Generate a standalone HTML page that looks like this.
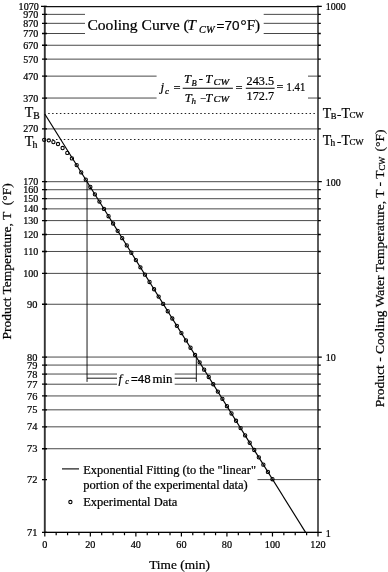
<!DOCTYPE html><html><head><meta charset="utf-8"><style>html,body{margin:0;padding:0;background:#fff;width:388px;height:572px;overflow:hidden}svg{display:block}text{font-family:"Liberation Serif",serif;fill:#000;stroke:#000;stroke-width:0.22px}.s{font-family:"Liberation Sans",sans-serif}.i{font-style:italic}</style></head><body>
<svg width="388" height="572" viewBox="0 0 388 572">
<path d="M44.8 532.40H318.0M257.5 479.61H318.0M44.8 448.74H318.0M44.8 426.83H318.0M44.8 409.84H318.0M44.8 395.95H318.0M44.8 384.21H117.0M174.7 384.21H318.0M44.8 374.04H117.0M174.7 374.04H318.0M44.8 365.07H318.0M44.8 357.05H318.0M44.8 304.26H318.0M44.8 273.39H318.0M44.8 251.48H318.0M44.8 234.49H318.0M44.8 220.60H318.0M44.8 208.86H318.0M44.8 198.69H318.0M44.8 189.72H318.0M44.8 181.70H318.0M44.8 128.91H318.0M44.8 98.04H156.6M308.0 98.04H318.0M44.8 76.13H156.6M308.0 76.13H318.0M44.8 59.14H318.0M44.8 45.25H318.0M44.8 33.51H85.0M263.7 33.51H318.0M44.8 23.34H85.0M263.7 23.34H318.0M44.8 14.37H85.0M263.7 14.37H318.0" stroke="#000" stroke-width="0.72" fill="none"/>
<path d="M44.8 6.6H318.0" stroke="#111" stroke-width="1.3" fill="none"/>
<path d="M48.2 113.50H316.5" stroke="#222" stroke-width="1" stroke-dasharray="1.5 2.4" fill="none"/>
<path d="M48.2 139.50H316.5" stroke="#222" stroke-width="1" stroke-dasharray="1.5 2.4" fill="none"/>
<path d="M44.8 5.75V533.0" stroke="#333" stroke-width="1.9" fill="none"/>
<path d="M318.0 5.75V533.0" stroke="#333" stroke-width="1.6" fill="none"/>
<path d="M44.8 532.4H318.0" stroke="#000" stroke-width="1.3" fill="none"/>
<path d="M41 6.35H47M42 532.40H47M42 479.61H47M42 448.74H47M42 426.83H47M42 409.84H47M42 395.95H47M42 384.21H47M42 374.04H47M42 365.07H47M42 357.05H47M42 304.26H47M42 273.39H47M42 251.48H47M42 234.49H47M42 220.60H47M42 208.86H47M42 198.69H47M42 189.72H47M42 181.70H47M42 128.91H47M42 98.04H47M42 76.13H47M42 59.14H47M42 45.25H47M42 33.51H47M42 23.34H47M42 14.37H47M42 6.35H47" stroke="#000" stroke-width="1.3" fill="none"/>
<path d="M318.0 532.40H321.8M318.0 479.61H320.8M318.0 448.74H320.8M318.0 426.83H320.8M318.0 409.84H320.8M318.0 395.95H320.8M318.0 384.21H320.8M318.0 374.04H320.8M318.0 365.07H320.8M318.0 357.05H321.8M318.0 304.26H320.8M318.0 273.39H320.8M318.0 251.48H320.8M318.0 234.49H320.8M318.0 220.60H320.8M318.0 208.86H320.8M318.0 198.69H320.8M318.0 189.72H320.8M318.0 181.70H321.8M318.0 128.91H320.8M318.0 98.04H320.8M318.0 76.13H320.8M318.0 59.14H320.8M318.0 45.25H320.8M318.0 33.51H320.8M318.0 23.34H320.8M318.0 14.37H320.8M318.0 6.35H321.8M316.6 6.35H318.0" stroke="#000" stroke-width="1.3" fill="none"/>
<path d="M44.80 532.4V536.6M56.18 532.4V535.2M67.57 532.4V535.2M78.95 532.4V535.2M90.33 532.4V536.6M101.72 532.4V535.2M113.10 532.4V535.2M124.48 532.4V535.2M135.87 532.4V536.6M147.25 532.4V535.2M158.63 532.4V535.2M170.02 532.4V535.2M181.40 532.4V536.6M192.78 532.4V535.2M204.17 532.4V535.2M215.55 532.4V535.2M226.93 532.4V536.6M238.32 532.4V535.2M249.70 532.4V535.2M261.08 532.4V535.2M272.47 532.4V536.6M283.85 532.4V535.2M295.23 532.4V535.2M306.62 532.4V535.2M318.00 532.4V536.6" stroke="#000" stroke-width="1.2" fill="none"/>
<text x="37.5" y="536.00" font-size="10.4" text-anchor="end">71</text>
<text x="37.5" y="483.21" font-size="10.4" text-anchor="end">72</text>
<text x="37.5" y="452.34" font-size="10.4" text-anchor="end">73</text>
<text x="37.5" y="430.43" font-size="10.4" text-anchor="end">74</text>
<text x="37.5" y="413.44" font-size="10.4" text-anchor="end">75</text>
<text x="37.5" y="399.55" font-size="10.4" text-anchor="end">76</text>
<text x="37.5" y="387.81" font-size="10.4" text-anchor="end">77</text>
<text x="37.5" y="377.64" font-size="10.4" text-anchor="end">78</text>
<text x="37.5" y="368.67" font-size="10.4" text-anchor="end">79</text>
<text x="37.5" y="360.65" font-size="10.4" text-anchor="end">80</text>
<text x="37.5" y="307.86" font-size="10.4" text-anchor="end">90</text>
<text x="38.2" y="276.89" font-size="10" text-anchor="end">100</text>
<text x="38.2" y="254.98" font-size="10" text-anchor="end">110</text>
<text x="38.2" y="237.99" font-size="10" text-anchor="end">120</text>
<text x="38.2" y="224.10" font-size="10" text-anchor="end">130</text>
<text x="38.2" y="212.36" font-size="10" text-anchor="end">140</text>
<text x="38.2" y="202.19" font-size="10" text-anchor="end">150</text>
<text x="38.2" y="193.22" font-size="10" text-anchor="end">160</text>
<text x="38.2" y="185.20" font-size="10" text-anchor="end">170</text>
<text x="38.2" y="132.41" font-size="10" text-anchor="end">270</text>
<text x="38.2" y="101.54" font-size="10" text-anchor="end">370</text>
<text x="38.2" y="79.63" font-size="10" text-anchor="end">470</text>
<text x="38.2" y="62.64" font-size="10" text-anchor="end">570</text>
<text x="38.2" y="48.75" font-size="10" text-anchor="end">670</text>
<text x="38.2" y="37.01" font-size="10" text-anchor="end">770</text>
<text x="38.2" y="26.84" font-size="10" text-anchor="end">870</text>
<text x="38.2" y="17.87" font-size="10" text-anchor="end">970</text>
<text x="38.8" y="9.85" font-size="10.1" text-anchor="end">1070</text>
<text x="325.8" y="536.50" font-size="10">1</text>
<text x="325.8" y="361.15" font-size="10">10</text>
<text x="325.8" y="185.80" font-size="10">100</text>
<text x="325.8" y="10.45" font-size="10">1000</text>
<text x="44.80" y="548" font-size="10.2" text-anchor="middle">0</text>
<text x="90.33" y="548" font-size="10.2" text-anchor="middle">20</text>
<text x="135.87" y="548" font-size="10.2" text-anchor="middle">40</text>
<text x="181.40" y="548" font-size="10.2" text-anchor="middle">60</text>
<text x="226.93" y="548" font-size="10.2" text-anchor="middle">80</text>
<text x="272.47" y="548" font-size="10.2" text-anchor="middle">100</text>
<text x="318.00" y="548" font-size="10.2" text-anchor="middle">120</text>
<path d="M44.8 113.93L305.60 532.4" stroke="#000" stroke-width="1.15" fill="none"/>
<path d="M87.04 181.70V381.9M196.32 357.05V381.9M87.04 378.2H117M174.7 378.2H196.32" stroke="#000" stroke-width="0.9" fill="none"/>
<g fill="none" stroke="#000" stroke-width="1.05"><circle cx="44.20" cy="139.80" r="1.65"/><circle cx="48.80" cy="140.30" r="1.65"/><circle cx="53.40" cy="142.10" r="1.65"/><circle cx="58.00" cy="144.00" r="1.65"/><circle cx="62.60" cy="148.00" r="1.65"/><circle cx="67.30" cy="152.90" r="1.65"/><circle cx="71.90" cy="158.40" r="1.65"/><circle cx="76.67" cy="165.07" r="1.65"/><circle cx="81.23" cy="172.38" r="1.65"/><circle cx="85.78" cy="179.68" r="1.65"/><circle cx="90.33" cy="186.99" r="1.65"/><circle cx="94.89" cy="194.30" r="1.65"/><circle cx="99.44" cy="201.60" r="1.65"/><circle cx="103.99" cy="208.91" r="1.65"/><circle cx="108.55" cy="216.21" r="1.65"/><circle cx="113.10" cy="223.52" r="1.65"/><circle cx="117.65" cy="230.83" r="1.65"/><circle cx="122.21" cy="238.13" r="1.65"/><circle cx="126.76" cy="245.44" r="1.65"/><circle cx="131.31" cy="252.75" r="1.65"/><circle cx="135.87" cy="260.05" r="1.65"/><circle cx="140.42" cy="267.36" r="1.65"/><circle cx="144.97" cy="274.66" r="1.65"/><circle cx="149.53" cy="281.97" r="1.65"/><circle cx="154.08" cy="289.28" r="1.65"/><circle cx="158.63" cy="296.58" r="1.65"/><circle cx="163.19" cy="303.89" r="1.65"/><circle cx="167.74" cy="311.20" r="1.65"/><circle cx="172.29" cy="318.50" r="1.65"/><circle cx="176.85" cy="325.81" r="1.65"/><circle cx="181.40" cy="333.11" r="1.65"/><circle cx="185.95" cy="340.42" r="1.65"/><circle cx="190.51" cy="347.73" r="1.65"/><circle cx="195.06" cy="355.03" r="1.65"/><circle cx="199.61" cy="362.34" r="1.65"/><circle cx="204.17" cy="369.65" r="1.65"/><circle cx="208.72" cy="376.95" r="1.65"/><circle cx="213.27" cy="384.26" r="1.65"/><circle cx="217.83" cy="391.56" r="1.65"/><circle cx="222.38" cy="398.87" r="1.65"/><circle cx="226.93" cy="406.18" r="1.65"/><circle cx="231.49" cy="413.48" r="1.65"/><circle cx="236.04" cy="420.79" r="1.65"/><circle cx="240.59" cy="428.10" r="1.65"/><circle cx="245.15" cy="435.40" r="1.65"/><circle cx="249.70" cy="442.71" r="1.65"/><circle cx="254.25" cy="450.01" r="1.65"/><circle cx="258.81" cy="457.32" r="1.65"/><circle cx="263.36" cy="464.63" r="1.65"/><circle cx="267.91" cy="471.93" r="1.65"/><circle cx="272.47" cy="479.24" r="1.65"/></g>
<text x="87.4" y="30.2" font-size="15.6">Cooling Curve</text>
<text x="183.6" y="30.2" font-size="15.6">(</text>
<text x="187.2" y="30.2" font-size="15.6" class="i">T</text>
<text x="199" y="32.8" font-size="10.5" class="i" textLength="15.5" lengthAdjust="spacingAndGlyphs">CW</text>
<text x="216.6" y="29.6" font-size="13.5" class="s">=70</text>
<text x="240.6" y="30.2" font-size="15.2">°F)</text>
<text x="160.4" y="91" font-size="13" class="i">j</text>
<text x="165" y="93.6" font-size="9" class="i">c</text>
<text x="173.6" y="91.6" font-size="12.5">=</text>
<text x="184" y="82.9" font-size="12.5" class="i">T</text><text x="191.5" y="85.5" font-size="8.5" class="i">B</text>
<text x="198.8" y="82.9" font-size="12.5">-</text>
<text x="205.2" y="82.9" font-size="12.5" class="i">T</text><text x="213.6" y="85.4" font-size="8.6" class="i" textLength="15.6" lengthAdjust="spacingAndGlyphs">CW</text>
<path d="M182.7 88.3H232.9M245.8 88.3H274.6" stroke="#000" stroke-width="1.1"/>
<text x="184.8" y="101.5" font-size="12.5" class="i">T</text><text x="191.6" y="104" font-size="9" class="i">h</text>
<text x="200.4" y="101.5" font-size="10.5">−</text>
<text x="205.2" y="101.5" font-size="12.5" class="i">T</text><text x="213.6" y="102.4" font-size="8.6" class="i" textLength="15.6" lengthAdjust="spacingAndGlyphs">CW</text>
<text x="235.6" y="91.6" font-size="12.5">=</text>
<text x="246.6" y="85" font-size="12.2">243.5</text>
<text x="246.6" y="99.7" font-size="12.2">172.7</text>
<text x="276.6" y="91.4" font-size="12.2">=</text>
<text x="286.6" y="91.2" font-size="12.2" textLength="18.6" lengthAdjust="spacingAndGlyphs">1.41</text>
<text x="24.8" y="117" font-size="14">T</text><text x="33.3" y="118.5" font-size="9.6">B</text>
<text x="24.8" y="146.4" font-size="14">T</text><text x="32.6" y="147.6" font-size="9.8">h</text>
<text x="322.7" y="117.9" font-size="13.9">T</text><text x="330.8" y="118.5" font-size="8.6">B</text><text x="337" y="117.8" font-size="13.2">-</text><text x="341.4" y="117.9" font-size="13.9">T</text><text x="349.4" y="118.3" font-size="8.6" textLength="14.4" lengthAdjust="spacingAndGlyphs">CW</text>
<text x="322.7" y="144.6" font-size="13.9">T</text><text x="330.6" y="146.2" font-size="9.4">h</text><text x="337" y="144.5" font-size="13.2">-</text><text x="341.4" y="144.6" font-size="13.9">T</text><text x="349.4" y="145" font-size="8.6" textLength="14.4" lengthAdjust="spacingAndGlyphs">CW</text>
<text x="118.6" y="382.5" font-size="12.4" class="i">f</text><text x="125.2" y="383.6" font-size="8" class="i">c</text>
<text x="131" y="382.5" font-size="11.6" class="s">=48</text>
<text x="152.4" y="382.5" font-size="12.9">min</text>
<path d="M62 468.9H79" stroke="#000" stroke-width="1.1"/>
<circle cx="70.4" cy="502" r="1.65" fill="none" stroke="#000" stroke-width="1.05"/>
<text x="83.2" y="474.1" font-size="12.5" textLength="172.8" lengthAdjust="spacingAndGlyphs">Exponential Fitting (to the "linear"</text>
<text x="83.2" y="489" font-size="12.5">portion of the experimental data)</text>
<text x="83.2" y="506" font-size="12.5">Experimental Data</text>
<text x="149.2" y="568.6" font-size="13.35">Time (min)</text>
<text transform="translate(11,339.6) rotate(-90)" font-size="13.5" xml:space="preserve">Product Temperature, T  (°F)</text>
<text transform="translate(384.4,407.2) rotate(-90)" font-size="13.5" xml:space="preserve">Product - Cooling Water Temperature, T - T<tspan font-size="8.6" dy="0.6">CW</tspan><tspan dy="-0.6" dx="-1.5">  (°F)</tspan></text>
</svg></body></html>
